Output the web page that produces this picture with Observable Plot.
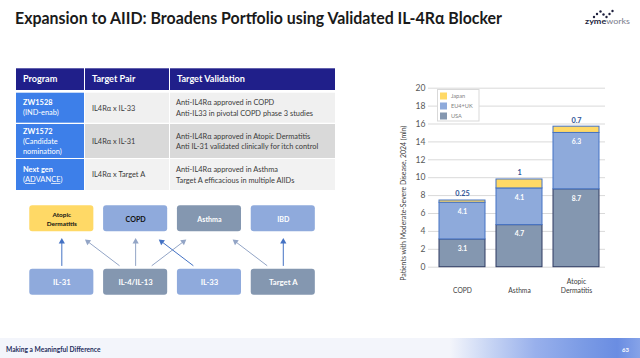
<!DOCTYPE html>
<html>
<head>
<meta charset="utf-8">
<script src="https://cdn.jsdelivr.net/npm/d3@7"></script>
<script src="https://cdn.jsdelivr.net/npm/@observablehq/plot@0.6"></script>
<style>
html,body{margin:0;padding:0;background:#fff;}
#slide{position:relative;width:640px;height:358px;overflow:hidden;font-family:Lato,"Liberation Sans",Arial,sans-serif;}
#bg,#fg{position:absolute;left:0;top:0;}
#fg{pointer-events:none;}
#chart{position:absolute;left:360px;top:70px;}
#diagram{position:absolute;left:0;top:195px;}
</style>
</head>
<body>
<div id="slide">
  <svg id="bg" width="640" height="358"></svg>
  <div id="diagram"></div>
  <div id="chart"></div>
  <svg id="fg" width="640" height="358"></svg>
</div>
<script>
// ---------- data ----------
const title = "Expansion to AIID: Broadens Portfolio using Validated IL-4Rα Blocker";
const headers = ["Program", "Target Pair", "Target Validation"];
const programs = [["ZW1528", "(IND-enab)"], ["ZW1572", "(Candidate", "nomination)"], ["Next gen", "(<u>AD</u>VAN<u>CE</u>)"]];
const pairs = ["IL4Rα x IL-33", "IL4Rα x IL-31", "IL4Rα x Target A"];
const validations = [
  ["Anti-IL4Rα approved in COPD", "Anti-IL33 in pivotal COPD phase 3 studies"],
  ["Anti-IL4Rα approved in Atopic Dermatitis", "Anti IL-31 validated clinically for itch control"],
  ["Anti-IL4Rα approved in Asthma", "Target A efficacious in multiple AIIDs"]
];
const topNodes = ["Atopic\nDermatitis", "COPD", "Asthma", "IBD"];
const bottomNodes = ["IL-31", "IL-4/IL-13", "IL-33", "Target A"];
const links = [
  ["IL-31", "Atopic\nDermatitis", "partner"],
  ["IL-4/IL-13", "Atopic\nDermatitis", "shared"],
  ["IL-4/IL-13", "COPD", "shared"],
  ["IL-4/IL-13", "Asthma", "shared"],
  ["IL-33", "COPD", "partner"],
  ["Target A", "Asthma", "shared"],
  ["Target A", "IBD", "partner"]
];
const categories = ["COPD", "Asthma", "Atopic\nDermatitis"];
const seriesNames = ["USA", "EU4+UK", "Japan"];
const usa = [3.1, 4.7, 8.7];
const eu = [4.1, 4.1, 6.3];
const japan = [0.25, 1, 0.7];
const yTicks = [0, 2, 4, 6, 8, 10, 12, 14, 16, 18, 20];
const yLabel = "Patients with Moderate-Severe Disease, 2024 (mln)";
const footerText = "Making a Meaningful Difference";
const pageNo = "63";

// ---------- styles ----------
const FONT = 'Lato,"Liberation Sans",Arial,sans-serif';
const fillOf = {"USA": "#8497b0", "EU4+UK": "#8eaadb", "Japan": "#ffd966"};
const strokeOf = {"USA": "#2f3b63", "EU4+UK": "#4472c4", "Japan": "#4472c4"};
const nodeFill = {"Atopic\nDermatitis": "#ffd966", "COPD": "#8faadc", "Asthma": "#8497b0", "IBD": "#8faadc",
  "IL-31": "#8faadc", "IL-4/IL-13": "#8497b0", "IL-33": "#8faadc", "Target A": "#8497b0"};
const nodeInk = {"Atopic\nDermatitis": "#111", "COPD": "#111"};
const linkColor = {partner: "#4472c4", shared: "#93a5c6"};

// ---------- slide background (title, table, footer) ----------
const bg = d3.select("#bg");
const defs = bg.append("defs");
const grad = defs.append("linearGradient").attr("id", "fgrad").attr("x1", 0).attr("x2", 1);
[["0%", "#f3f5fb"], ["20%", "#c9d6f4"], ["45%", "#98b0ec"], ["70%", "#7b9be5"], ["88%", "#6a8de2"], ["100%", "#86a3e8"]]
  .forEach(([o, c]) => grad.append("stop").attr("offset", o).attr("stop-color", c));

function txt(sel, x, y, s, size, opts = {}) {
  return sel.append("text").attr("x", x).attr("y", y).attr("font-family", FONT)
    .attr("font-size", size).attr("font-weight", opts.bold ? "bold" : "normal")
    .attr("fill", opts.fill || "#222").attr("text-anchor", opts.anchor || "start").text(s);
}

txt(bg, 15, 24, title, 16.1, {bold: true, fill: "#1a1a1a"}).attr("class", "title");

// logo
[[594, 17], [597, 14], [600.5, 11.5], [603.5, 14.5], [606.5, 17], [609.5, 14], [612.5, 11]]
  .forEach(([x, y]) => bg.append("circle").attr("cx", x).attr("cy", y).attr("r", 1.2).attr("fill", "#1d1f3d"));
const logo = bg.append("text").attr("x", 585).attr("y", 24).attr("font-family", FONT).attr("font-size", 7)
  .attr("textLength", 45).attr("lengthAdjust", "spacingAndGlyphs");
logo.append("tspan").attr("font-weight", "bold").attr("fill", "#1d1f3d").text("zyme");
logo.append("tspan").attr("fill", "#7b7d8c").text("works");

// table
const colX = [16, 85, 170], colR = [84, 169, 335];
const rowTop = [92.7, 124, 159], rowBot = [122.7, 158, 190];
const rowFill = ["#f0f0f0", "#d9d9d9", "#f2f2f2"];
headers.forEach((h, j) => {
  bg.append("rect").attr("x", colX[j]).attr("y", 68.3).attr("width", colR[j] - colX[j]).attr("height", 21.7).attr("fill", "#201f8a");
  txt(bg, colX[j] + 7, 81.6, h, 9.2, {bold: true, fill: "#fff"});
});
programs.forEach((lines, i) => {
  const t = rowTop[i], b = rowBot[i], c = (t + b) / 2;
  bg.append("rect").attr("x", colX[0]).attr("y", t).attr("width", colR[0] - colX[0]).attr("height", b - t).attr("fill", "#3d7fe9");
  [1, 2].forEach(j => bg.append("rect").attr("x", colX[j]).attr("y", t).attr("width", colR[j] - colX[j]).attr("height", b - t).attr("fill", rowFill[i]));
  lines.forEach((ln, k) => {
    const y = c + (k - (lines.length - 1) / 2) * 10 + 2.7;
    if (ln.includes("<u>")) {
      const el = bg.append("text").attr("x", 23).attr("y", y).attr("font-family", FONT).attr("font-size", 7.5).attr("fill", "#fff");
      ln.split(/(<u>.*?<\/u>)/).filter(p => p).forEach(p => {
        const u = p.startsWith("<u>");
        const ts = el.append("tspan").text(p.replace(/<\/?u>/g, ""));
        if (u) ts.attr("text-decoration", "underline");
      });
    } else {
      txt(bg, 23, y, ln, 7.5, {bold: k === 0, fill: "#fff"});
    }
  });
  txt(bg, 92, c + 2.9, pairs[i], 7.5, {fill: "#3a3a3a"});
  validations[i].forEach((ln, k) => txt(bg, 176, c + (k - 0.5) * 10.6 + 3, ln, 7.5, {fill: "#3a3a3a"}).attr("class", i === 0 && k === 1 ? "refline" : null));
});

// footer
bg.append("rect").attr("x", 0).attr("y", 338).attr("width", 640).attr("height", 20).attr("fill", "#f3f5fb");
bg.append("rect").attr("x", 450).attr("y", 338).attr("width", 190).attr("height", 20).attr("fill", "url(#fgrad)");
txt(bg, 6, 351.5, footerText, 6.7, {bold: true, fill: "#1f2d5c"});
txt(bg, 622, 351.5, pageNo, 6, {bold: true, fill: "#fff"});

// ---------- diagram ----------
const nodeRows = [
  ...topNodes.map((name, i) => ({name, col: i, row: 1})),
  ...bottomNodes.map((name, i) => ({name, col: i, row: 0}))
];
const linkRows = links.map(([s, t, g]) => ({s: bottomNodes.indexOf(s), t: topNodes.indexOf(t), g}));
const ax1 = d => d.s === d.t ? d.s : d.s + Math.sign(d.t - d.s) * 0.222;
const ax2 = d => d.s === d.t ? d.t : d.t + Math.sign(d.s - d.t) * 0.352;
const diagram = Plot.plot({
  width: 340, height: 105, margin: 0,
  style: {background: "transparent", fontFamily: FONT, overflow: "visible"},
  x: {domain: [-0.5, 3.5], range: [24.4, 319.7], axis: null},
  y: {domain: [0, 1], range: [86.7, 23.3], axis: null},
  color: {type: "identity"},
  marks: [
    Plot.arrow(linkRows, {
      x1: ax1, x2: ax2, y1: () => 0.263, y2: () => 0.64,
      stroke: d => linkColor[d.g], strokeWidth: 1, headLength: 0
    }),
    Plot.dot(linkRows, {
      x: ax2, y: () => 0.64, symbol: "triangle", r: 2.3,
      fill: d => linkColor[d.g], stroke: "none",
      rotate: d => Math.atan2((ax2(d) - ax1(d)) * 73.8, (0.64 - 0.263) * 63.4) * 180 / Math.PI
    }),
    Plot.rect(nodeRows, {
      x1: d => d.col - 0.434, x2: d => d.col + 0.434,
      y1: d => d.row - 0.205, y2: d => d.row + 0.205,
      fill: d => nodeFill[d.name], rx: 3
    }),
    Plot.text(nodeRows.filter(d => d.row === 1), {x: "col", y: "row", text: "name", fill: d => nodeInk[d.name] || "#fff",
      fontWeight: "bold", fontSize: d => d.name.includes("\n") ? 6.4 : 7.2, lineHeight: 1.35}),
    Plot.text(nodeRows.filter(d => d.row === 0), {x: "col", y: "row", text: "name", fill: "#fff",
      fontWeight: "bold", fontSize: 7.8})
  ]
});
document.getElementById("diagram").append(diagram);

// ---------- chart ----------
const rows = categories.flatMap((cat, i) => [
  {cat, series: "USA", value: usa[i]},
  {cat, series: "EU4+UK", value: eu[i]},
  {cat, series: "Japan", value: japan[i]}
]);
const chart = Plot.plot({
  width: 280, height: 240, marginTop: 17.7, marginBottom: 43.3, marginLeft: 68, marginRight: 35,
  style: {background: "transparent", fontFamily: FONT, overflow: "visible"},
  x: {domain: categories, range: [78, 240.5], paddingInner: 0.19, paddingOuter: 0, axis: null},
  y: {domain: [0, 20], axis: null},
  color: {type: "identity"},
  marks: [
    Plot.gridY(yTicks, {stroke: "#d9d9d9", strokeOpacity: 1, strokeWidth: 1}),
    Plot.axisY(yTicks, {tickSize: 0, tickPadding: 3, label: null, fontSize: 8.7, fill: "#595959"}),
    Plot.barY(rows, Plot.stackY({x: "cat", y: "value", fill: d => fillOf[d.series], stroke: d => strokeOf[d.series], strokeWidth: 1})),
    Plot.text(rows, Plot.stackY2({x: "cat", y: "value", text: d => d.series === "Japan" ? null : String(d.value),
      dy: 9, fill: "#fff", fontWeight: "bold", fontSize: 6.9})),
    Plot.text(rows, Plot.stackY2({x: "cat", y: "value", text: d => d.series === "Japan" ? String(d.value) : null,
      dy: -6.5, fill: "#2f5597", fontWeight: "bold", fontSize: 7.4})),
    Plot.text(categories, {x: d => d, text: d => d, frameAnchor: "bottom", lineAnchor: "bottom", dy: 26,
      fill: "#404040", fontSize: 6.8, lineHeight: 1.3}),
    Plot.text([yLabel], {text: d => d, frameAnchor: "left", rotate: -90, dx: -25, dy: 25.5,
      textAnchor: "middle", fill: "#404040", fontSize: 7})
  ]
});
document.getElementById("chart").append(chart);

// ---------- legend (foreground) ----------
const fg = d3.select("#fg");
fg.append("rect").attr("x", 437.5).attr("y", 89.5).attr("width", 41.5).attr("height", 31.5)
  .attr("fill", "#fff").attr("stroke", "#d9d9d9").attr("stroke-width", 1);
seriesNames.slice().reverse().forEach((s, i) => {
  const cy = 96 + i * 10;
  fg.append("rect").attr("x", 440).attr("y", cy - 3.5).attr("width", 7).attr("height", 7).attr("fill", fillOf[s]);
  txt(fg, 451, cy + 2, s, 5.7, {fill: "#7f7f7f"});
});

// ---------- width fitting to the original's narrower face ----------
function naturalWidth(el) { return el.getComputedTextLength(); }
const kB = 487 / naturalWidth(document.querySelector("#bg .title"));
const kR = 137 / naturalWidth(document.querySelector("#bg .refline"));
document.querySelectorAll("#bg text, #fg text, #chart text, #diagram text").forEach(el => {
  if (el.hasAttribute("textLength") || el.querySelector("tspan")) return;
  const w = el.getComputedTextLength();
  if (!w) return;
  const fw = el.getAttribute("font-weight") || getComputedStyle(el).fontWeight;
  const bold = fw === "bold" || +fw >= 600;
  el.setAttribute("textLength", (w * (bold ? kB : kR)).toFixed(2));
  el.setAttribute("lengthAdjust", "spacingAndGlyphs");
});
</script>
</body>
</html>
